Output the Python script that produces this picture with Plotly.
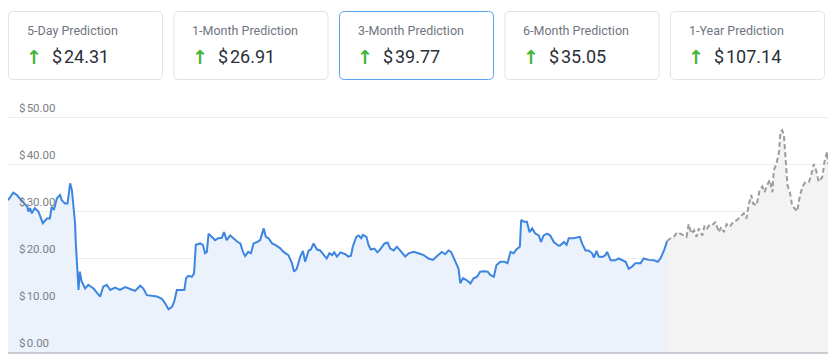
import pandas as pd
import plotly.graph_objects as go

# ---------------- data ----------------
card_titles = ["5-Day Prediction", "1-Month Prediction", "3-Month Prediction",
               "6-Month Prediction", "1-Year Prediction"]
card_values = ["$24.31", "$26.91", "$39.77", "$35.05", "$107.14"]
selected_card = 2

start_date = "2019-06-01"

hist_days = [0, 12, 20, 27, 39, 44, 46, 50, 54, 61, 69, 74, 79, 88, 95, 99, 104, 111, 118, 122,
             129, 135, 141, 145, 148, 152, 154, 157, 160, 163, 167, 175, 182, 194, 205, 209, 216,
             224, 232, 243, 254, 266, 277, 288, 300, 307, 315, 326, 338, 349, 356, 364, 372, 377,
             383, 390, 400, 404, 409, 417, 422, 426, 436, 442, 447, 451, 455, 462, 470, 477, 485,
             490, 496, 504, 511, 521, 527, 533, 538, 545, 551, 557, 565, 572, 580, 585, 591, 599,
             606, 617, 625, 636, 644, 649, 655, 663, 669, 674, 682, 687, 693, 701, 708, 716, 723,
             729, 735, 740, 746, 754, 765, 772, 778, 782, 790, 795, 801, 805, 813, 818, 823, 831,
             838, 844, 854, 861, 867, 875, 882, 888, 894, 901, 909, 920, 931, 943, 954, 964, 972,
             977, 984, 992, 999, 1005, 1011, 1017, 1022, 1026, 1032, 1040, 1049, 1056, 1064, 1071,
             1081, 1088, 1094, 1102, 1108, 1117, 1126, 1133, 1140, 1147, 1153, 1161, 1164, 1170,
             1177, 1183, 1189, 1196, 1204, 1209, 1215, 1223, 1230, 1238, 1249, 1253, 1261, 1267,
             1272, 1283, 1297, 1302, 1310, 1317, 1325, 1329, 1335, 1340, 1348, 1355, 1359, 1367,
             1378, 1385, 1393, 1401, 1408, 1416, 1423, 1435, 1442, 1453, 1465, 1474, 1480, 1488,
             1495]
hist_prices = [32.3, 33.9, 33.4, 32.7, 31.6, 30.9, 29.9, 30.6, 29.5, 30.6, 29.9, 28.4, 27.4, 28.4,
               28.4, 30.9, 30.2, 32.7, 33.4, 32.3, 31.6, 31.6, 35.9, 34.4, 31.2, 27.5, 22.8, 17.1,
               13.2, 17.1, 15.0, 13.5, 14.3, 13.5, 12.1, 11.8, 13.9, 14.3, 13.2, 13.7, 13.2, 13.8,
               13.4, 13.0, 14.1, 13.5, 12.1, 12.0, 11.8, 11.3, 10.4, 9.1, 9.6, 10.7, 13.2, 13.2,
               13.2, 15.7, 16.2, 16.0, 16.7, 22.8, 23.1, 22.8, 21.0, 21.3, 25.2, 24.5, 23.8, 24.2,
               24.3, 25.5, 23.8, 24.8, 24.2, 23.4, 23.1, 21.3, 20.4, 21.3, 21.0, 23.1, 23.4, 23.8,
               26.3, 24.5, 24.2, 23.1, 22.8, 22.1, 21.3, 20.6, 18.9, 17.1, 17.7, 20.3, 21.5, 19.2,
               21.6, 21.8, 23.1, 21.8, 21.6, 20.6, 19.9, 21.0, 20.6, 21.2, 20.3, 21.2, 20.8, 20.3,
               20.5, 22.4, 24.5, 24.8, 24.2, 24.9, 24.5, 22.7, 21.8, 22.0, 21.2, 21.8, 23.1, 23.3,
               22.0, 21.6, 22.4, 21.8, 21.0, 20.3, 21.0, 21.3, 21.0, 20.6, 19.9, 19.6, 20.3, 20.8,
               21.3, 20.8, 21.6, 21.3, 19.9, 18.9, 17.7, 14.6, 15.7, 15.3, 14.6, 15.7, 16.0, 17.1,
               17.2, 17.1, 16.4, 16.0, 18.5, 19.2, 19.2, 18.9, 21.3, 21.0, 21.8, 22.4, 28.1, 27.7,
               27.7, 25.5, 26.3, 25.2, 24.8, 23.4, 24.8, 25.2, 24.8, 23.4, 22.6, 22.7, 23.4, 22.8,
               24.2, 24.2, 24.5, 23.1, 21.6, 21.6, 21.0, 20.1, 21.5, 20.3, 20.2, 20.6, 21.3, 19.5,
               19.5, 19.9, 19.6, 19.2, 17.7, 18.2, 18.9, 18.9, 19.9, 19.6, 19.5, 19.2, 19.9, 21.6,
               23.6]

fc_days = [1495, 1503, 1510, 1518, 1525, 1533, 1539, 1544, 1550, 1556, 1562, 1567, 1575, 1580,
           1586, 1592, 1600, 1605, 1612, 1618, 1624, 1630, 1637, 1645, 1654, 1661, 1669, 1675,
           1680, 1686, 1690, 1698, 1705, 1711, 1716, 1722, 1728, 1734, 1737, 1743, 1749, 1752,
           1756, 1760, 1764, 1768, 1774, 1779, 1784, 1790, 1796, 1802, 1809, 1817, 1822, 1828,
           1834, 1839, 1847, 1852, 1858, 1860]
fc_prices = [23.6, 24.2, 24.5, 25.5, 25.2, 24.8, 24.5, 27.2, 25.2, 25.9, 24.5, 26.3, 24.8, 26.9,
             26.3, 27.2, 27.2, 27.7, 25.5, 26.6, 25.5, 27.2, 26.6, 27.7, 28.1, 28.8, 29.5, 28.4,
             31.3, 33.4, 31.6, 31.2, 34.5, 35.2, 34.0, 35.5, 36.6, 34.0, 38.7, 40.0, 42.6, 46.9,
             47.2, 46.2, 40.5, 35.5, 33.8, 31.0, 30.6, 29.9, 33.1, 35.2, 36.2, 36.2, 37.7, 40.0,
             38.3, 36.2, 37.2, 40.5, 42.6, 40.0]

y_ticks = [0, 10, 20, 30, 40, 50]
y_tick_labels = ["$0.00", "$10.00", "$20.00", "$30.00", "$40.00", "$50.00"]

# ---------------- figure ----------------
W, H = 840, 363
ML, MR, MT, MB = 8, 12, 100, 11
PW, PH = W - ML - MR, H - MT - MB
FONT = "Roboto, 'Open Sans', sans-serif"
HAIR = "\u200a"

t0 = pd.Timestamp(start_date)
hist_x = [t0 + pd.Timedelta(days=d) for d in hist_days]
fc_x = [t0 + pd.Timedelta(days=d) for d in fc_days]

fig = go.Figure()
fig.add_trace(go.Scatter(x=fc_x, y=fc_prices, mode="lines", fill="tozeroy",
                         fillcolor="#f3f3f3",
                         line=dict(color="#9c9c9c", width=2, dash="5px,3px"),
                         hoverinfo="skip", showlegend=False))
fig.add_trace(go.Scatter(x=hist_x, y=hist_prices, mode="lines", fill="tozeroy",
                         fillcolor="#ebf2fc",
                         line=dict(color="#3d86e0", width=2),
                         hoverinfo="skip", showlegend=False))

shapes = []
annotations = []

def px_to_paper_x(px):
    return (px - ML) / PW

def px_to_paper_y(py):
    return (H - MB - py) / PH

def rounded_rect(x0, y0, x1, y1, r):
    rx, ry = r / PW, r / PH
    X0, X1 = px_to_paper_x(x0), px_to_paper_x(x1)
    Yt, Yb = px_to_paper_y(y0), px_to_paper_y(y1)
    return (f"M {X0+rx},{Yt} L {X1-rx},{Yt} Q {X1},{Yt} {X1},{Yt-ry} "
            f"L {X1},{Yb+ry} Q {X1},{Yb} {X1-rx},{Yb} L {X0+rx},{Yb} "
            f"Q {X0},{Yb} {X0},{Yb+ry} L {X0},{Yt-ry} Q {X0},{Yt} {X0+rx},{Yt} Z")

card_w, card_gap, card_left, card_top, card_bot = 154, 11.5, 8.5, 11.5, 79.5
for i, (title, val) in enumerate(zip(card_titles, card_values)):
    x0 = card_left + i * (card_w + card_gap)
    x1 = x0 + card_w
    sel = i == selected_card
    shapes.append(dict(type="path", xref="paper", yref="paper",
                       path=rounded_rect(x0, card_top, x1, card_bot, 5),
                       line=dict(color="#5aa0f0" if sel else "rgb(224,226,231)", width=1),
                       fillcolor="rgba(0,0,0,0)", layer="above"))
    annotations.append(dict(xref="paper", yref="paper", x=px_to_paper_x(x0 + 16),
                            y=px_to_paper_y(30.5), xanchor="left", yanchor="middle",
                            text=title, showarrow=False,
                            font=dict(family=FONT, size=12.5, color="#707680")))
    annotations.append(dict(xref="paper", yref="paper", x=px_to_paper_x(x0 + 25.5),
                            y=px_to_paper_y(57), xanchor="center", yanchor="middle",
                            text="<b>↑</b>", showarrow=False,
                            font=dict(family="'DejaVu Sans', sans-serif", size=19, color="#45b53a")))
    annotations.append(dict(xref="paper", yref="paper", x=px_to_paper_x(x0 + 41.5),
                            y=px_to_paper_y(57), xanchor="left", yanchor="middle",
                            text=val.replace("$", "$" + HAIR), showarrow=False,
                            font=dict(family=FONT, size=18, color="#2a2f3a")))

for v, lab in zip(y_ticks, y_tick_labels):
    annotations.append(dict(xref="paper", yref="y", x=px_to_paper_x(17), y=v,
                            xanchor="left", yanchor="bottom",
                            text=lab.replace("$", "$" + HAIR), showarrow=False,
                            font=dict(family=FONT, size=11.5, color="#7c7f86")))

fig.update_layout(
    width=W, height=H,
    margin=dict(l=ML, r=MR, t=MT, b=MB),
    paper_bgcolor="white", plot_bgcolor="white",
    shapes=shapes, annotations=annotations,
    xaxis=dict(range=[t0, t0 + pd.Timedelta(days=1860)], showgrid=False, zeroline=False,
               showticklabels=False, ticks="", showline=True, linecolor="#c9ccd2",
               linewidth=2, fixedrange=True),
    yaxis=dict(range=[0, PH / 4.7], tickvals=y_ticks, showticklabels=False,
               showgrid=True, gridcolor="#eeeeee", gridwidth=1, zeroline=False,
               ticks="", fixedrange=True),
    font=dict(family=FONT),
)

fig.write_html("out.html", config=dict(displayModeBar=False))
